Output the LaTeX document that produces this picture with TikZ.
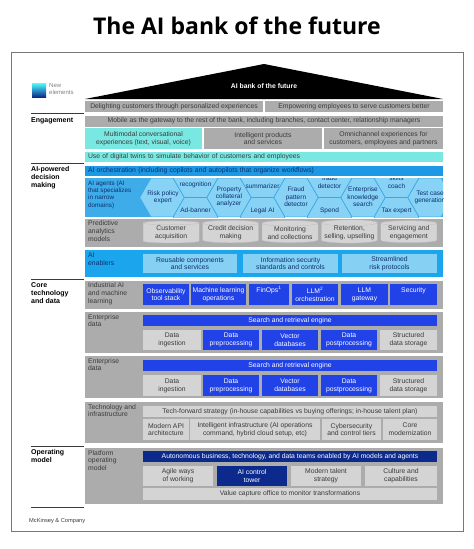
\documentclass[tikz,border=0pt]{standalone}
\usepackage{fontspec}
\setmainfont{Liberation Sans}
\newfontfamily\titlefont{Open Sans}
\usepackage{xcolor}
\usepackage{tikz}
\usetikzlibrary{positioning, shapes.geometric}
\definecolor{mkgray}{RGB}{172,172,172}
\definecolor{mklight}{RGB}{212,212,212}
\definecolor{mkteal}{RGB}{122,232,226}
\definecolor{mkorch}{RGB}{28,152,228}
\definecolor{mkagent}{RGB}{62,172,232}
\definecolor{mkhex}{RGB}{136,210,246}
\definecolor{mkenabler}{RGB}{26,165,236}
\definecolor{mkenbox}{RGB}{134,208,244}
\definecolor{mkroyal}{RGB}{33,66,230}
\definecolor{mknavy}{RGB}{12,42,140}
\definecolor{mkink}{RGB}{58,58,58}
\definecolor{mkblueink}{RGB}{12,48,110}
\definecolor{mkframe}{RGB}{120,120,120}
\newcommand{\boxfont}{\fontsize{6.8}{7.8}\selectfont}
\newcommand{\sidefont}{\fontsize{7}{8}\selectfont\bfseries}

\tikzset{
  cell/.style={inner sep=0pt, align=center, font=\boxfont, text=mkink},
  graybox/.style={cell, fill=mkgray},
  lightbox/.style={cell, fill=mklight},
  tealbox/.style={cell, fill=mkteal},
  enbox/.style={cell, fill=mkenbox, text=mkblueink},
  royalbox/.style={cell, fill=mkroyal, text=white},
  navybox/.style={cell, fill=mknavy, text=white},
  rowlabel/.style={anchor=north west, inner sep=0pt, align=left, font=\boxfont, text=mkink},
  sidelabel/.style={anchor=north west, inner sep=0pt, align=left, font=\sidefont, text=black},
  hexlabel/.style={inner sep=0pt, align=center, font=\fontsize{6.5}{7.4}\selectfont, text=mkblueink},
  sep/.style={draw=mkink, line width=0.6pt},
  drum/.style={cylinder, shape border rotate=90, aspect=0.12, inner sep=0pt, align=center,
               font=\boxfont, text=mkink, fill=mklight, draw=mkgray!80!white, line width=0.3pt},
  toptext/.style={text depth=9.4pt}
}

\begin{document}
\begin{tikzpicture}[x=1pt, y=-1pt]
  \useasboundingbox (0,0) rectangle (474,549);

  % title and frame
  \node[font=\titlefont\bfseries\fontsize{23}{26}\selectfont] (title) at (237,25.5) {The AI bank of the future};
  \draw[mkframe, line width=0.8pt] (11,52) rectangle (463,531);

  % legend
  \shade[top color=cyan!70!white, middle color=mkroyal, bottom color=mknavy] (32,83) rectangle (46,97);
  \node[anchor=north west, inner sep=0pt, align=left, font=\fontsize{6}{7}\selectfont, text=gray] (legend) at (49,83) {New\\elements};

  % roof
  \fill[black] (85,99) -- (264,64) -- (443,99) -- cycle;
  \node[font=\fontsize{6.8}{7.8}\selectfont\bfseries, text=white] (roof) at (264,86) {AI bank of the future};

  % engagement
  \node[graybox, minimum width=178, minimum height=11] (delight) at (174,106.5) {Delighting customers through personalized experiences};
  \node[graybox, minimum width=178, minimum height=11] (empower) at (354,106.5) {Empowering employees to serve customers better};
  \node[graybox, minimum width=358, minimum height=11] (mobile) at (264,121) {Mobile as the gateway to the rest of the bank, including branches, contact center, relationship managers};
  \node[tealbox, minimum width=117, minimum height=21] (multimodal) at (143.5,138.5) {Multimodal conversational\\experiences (text, visual, voice)};
  \node[graybox, minimum width=118, minimum height=21] (products) at (263,138.5) {Intelligent products\\and services};
  \node[graybox, minimum width=119, minimum height=21] (omni) at (383.5,138.5) {Omnichannel experiences for\\customers, employees and partners};

  % decision making
  \node[tealbox, minimum width=358, minimum height=10, text width=352, align=left] (twins) at (264,157) {Use of digital twins to simulate behavior of customers and employees};
  \node[cell, fill=mkorch, text=mkblueink, minimum width=358, minimum height=10.5, text width=352, align=left] (orch) at (264,170.8) {AI orchestration (including copilots and autopilots that organize workflows)};

  \fill[mkagent] (85,178) rectangle (443,217);
  \begin{scope}
    \clip (85,178) rectangle (443,217);
    \foreach \hx/\hy in {162/197.5, 229/197.5, 296/197.5, 363/197.5, 430/197.5,
                         195.5/178.2, 262.5/178.2, 329.5/178.2, 396.5/178.2,
                         195.5/216.8, 262.5/216.8, 329.5/216.8, 396.5/216.8}
      \filldraw[fill=mkhex, draw=mkagent!80!mkorch, line width=0.6pt]
        (\hx,\hy) +(0:22.3pt) -- +(60:22.3pt) -- +(120:22.3pt) -- +(180:22.3pt) -- +(240:22.3pt) -- +(300:22.3pt) -- cycle;
    \node[hexlabel] (risk) at (163,197.5) {Risk policy\\expert};
    \node[hexlabel] (property) at (229,197) {Property\\collateral\\analyzer};
    \node[hexlabel] (fraud) at (296,197) {Fraud\\pattern\\detector};
    \node[hexlabel] (search) at (363,197) {Enterprise\\knowledge\\search};
    \node[hexlabel] (testcase) at (430,197.5) {Test case\\generation};
    \node[hexlabel, anchor=south] (recog) at (195.5,188.5) {recognition};
    \node[hexlabel, anchor=south] (summ) at (262.5,188.5) {summarizer};
    \node[hexlabel, anchor=south] (fraudtop) at (329.5,188.5) {fraud\\detector};
    \node[hexlabel, anchor=south] (coach) at (396.5,188.5) {skills\\coach};
    \node[hexlabel, anchor=north] (adbanner) at (195.5,207.5) {Ad-banner};
    \node[hexlabel, anchor=north] (legal) at (262.5,207.5) {Legal AI};
    \node[hexlabel, anchor=north] (spend) at (329.5,207.5) {Spend};
    \node[hexlabel, anchor=north] (tax) at (396.5,207.5) {Tax expert};
  \end{scope}
  \node[rowlabel, text=mkblueink, font=\fontsize{6.3}{7.3}\selectfont] (agents) at (88,180.5) {AI agents (AI\\that specializes\\in narrow\\domains)};

  \fill[mkgray] (85,219) rectangle (443,247);
  \node[rowlabel] (predictive) at (88,220.5) {Predictive\\analytics\\models};
  \node[drum, minimum width=56, minimum height=22] (acq) at (171.2,233) {Customer\\acquisition};
  \node[drum, minimum width=56, minimum height=22] (credit) at (230.6,233) {Credit decision\\making};
  \node[drum, minimum width=56, minimum height=22] (monitor) at (290,233) {Monitoring\\and collections};
  \node[drum, minimum width=56, minimum height=22] (retention) at (349.4,233) {Retention,\\selling, upselling};
  \node[drum, minimum width=56, minimum height=22] (servicing) at (408.8,233) {Servicing and\\engagement};

  \fill[mkenabler] (85,250) rectangle (443,277);
  \node[rowlabel, text=mkblueink] (enablers) at (88,253) {AI\\enablers};
  \node[enbox, minimum width=94, minimum height=19] (reusable) at (190,263.5) {Reusable components\\and services};
  \node[enbox, minimum width=95, minimum height=19] (infosec) at (290.5,263.5) {Information security\\standards and controls};
  \node[enbox, minimum width=95, minimum height=19] (riskprot) at (389.5,263.5) {Streamlined\\risk protocols};

  % core technology and data
  \fill[mkgray] (85,281) rectangle (443,309);
  \node[rowlabel] (industrial) at (88,282.5) {Industrial AI\\and machine\\learning};
  \node[royalbox, minimum width=46, minimum height=21] (observ) at (166,294.5) {Observability\\tool stack};
  \node[royalbox, minimum width=55, minimum height=21] (mlops) at (218.5,294.5) {Machine learning\\operations};
  \node[royalbox, toptext, minimum width=40, minimum height=21] (finops) at (269,294.5) {FinOps\textsuperscript{1}};
  \node[royalbox, minimum width=46, minimum height=21] (llmorch) at (315,294.5) {LLM\textsuperscript{2}\\orchestration};
  \node[royalbox, minimum width=47, minimum height=21] (gateway) at (364.5,294.5) {LLM\\gateway};
  \node[royalbox, toptext, minimum width=47, minimum height=21] (security) at (413.5,294.5) {Security};

  \fill[mkgray] (85,312) rectangle (443,353);
  \node[rowlabel] (entdata) at (88,314) {Enterprise\\data};
  \node[royalbox, minimum width=294, minimum height=11] (engine) at (290,320.5) {Search and retrieval engine};
  \node[lightbox, minimum width=58, minimum height=20] (ingest) at (172,340) {Data\\ingestion};
  \node[royalbox, minimum width=56, minimum height=20] (preproc) at (231,340) {Data\\preprocessing};
  \node[royalbox, minimum width=56, minimum height=20] (vector) at (290,340) {Vector\\databases};
  \node[royalbox, minimum width=56, minimum height=20] (postproc) at (349,340) {Data\\postprocessing};
  \node[lightbox, minimum width=57, minimum height=20] (storage) at (408.5,340) {Structured\\data storage};

  \fill[mkgray] (85,356) rectangle (443,398);
  \node[rowlabel] (entdatab) at (88,358) {Enterprise\\data};
  \node[royalbox, minimum width=294, minimum height=11] (engineb) at (290,365.5) {Search and retrieval engine};
  \node[lightbox, minimum width=58, minimum height=21] (ingestb) at (172,385.5) {Data\\ingestion};
  \node[royalbox, minimum width=56, minimum height=21] (preprocb) at (231,385.5) {Data\\preprocessing};
  \node[royalbox, minimum width=56, minimum height=21] (vectorb) at (290,385.5) {Vector\\databases};
  \node[royalbox, minimum width=56, minimum height=21] (postprocb) at (349,385.5) {Data\\postprocessing};
  \node[lightbox, minimum width=57, minimum height=21] (storageb) at (408.5,385.5) {Structured\\data storage};

  \fill[mkgray] (85,402) rectangle (443,443);
  \node[rowlabel] (techinfra) at (88,404) {Technology and\\infrastructure};
  \node[lightbox, minimum width=294, minimum height=11] (techfwd) at (290,411.5) {Tech-forward strategy (in-house capabilities vs buying offerings; in-house talent plan)};
  \node[lightbox, minimum width=46, minimum height=21] (api) at (166,429.5) {Modern API\\architecture};
  \node[lightbox, minimum width=130, minimum height=21] (infra) at (255,429.5) {Intelligent infrastructure (AI operations\\command, hybrid cloud setup, etc)};
  \node[lightbox, minimum width=59, minimum height=21] (cyber) at (351.5,429.5) {Cybersecurity\\and control tiers};
  \node[lightbox, minimum width=54, minimum height=21] (core) at (410,429.5) {Core\\modernization};

  % operating model
  \fill[mkgray] (85,448) rectangle (443,504);
  \node[rowlabel] (platform) at (88,450) {Platform\\operating\\model};
  \node[navybox, minimum width=294, minimum height=11] (autonomous) at (290,456.5) {Autonomous business, technology, and data teams enabled by AI models and agents};
  \node[lightbox, minimum width=70, minimum height=20] (agile) at (178,476) {Agile ways\\of working};
  \node[navybox, minimum width=70, minimum height=20] (tower) at (252,476) {AI control\\tower};
  \node[lightbox, minimum width=70, minimum height=20] (talent) at (326,476) {Modern talent\\strategy};
  \node[lightbox, minimum width=72, minimum height=20] (culture) at (401,476) {Culture and\\capabilities};
  \node[lightbox, minimum width=294, minimum height=12] (valuecap) at (290,494) {Value capture office to monitor transformations};

  % side labels
  \draw[sep] (31,113.3) -- (84,113.3);
  \node[sidelabel, anchor=west] (engagement) at (31,121) {Engagement};
  \draw[sep] (31,163.5) -- (84,163.5);
  \node[sidelabel] (decision) at (31,166) {AI-powered\\decision\\making};
  \draw[sep] (31,279) -- (84,279);
  \node[sidelabel] (coretech) at (31,282) {Core\\technology\\and data};
  \draw[sep] (31,446.5) -- (84,446.5);
  \node[sidelabel] (opmodel) at (31,449) {Operating\\model};
  \draw[sep] (31,507.5) -- (84,507.5);

  \node[anchor=west, inner sep=0pt, font=\fontsize{5.7}{6.5}\selectfont, text=mkink] (mckinsey) at (29,521.5) {McKinsey \& Company};
\end{tikzpicture}
\end{document}
